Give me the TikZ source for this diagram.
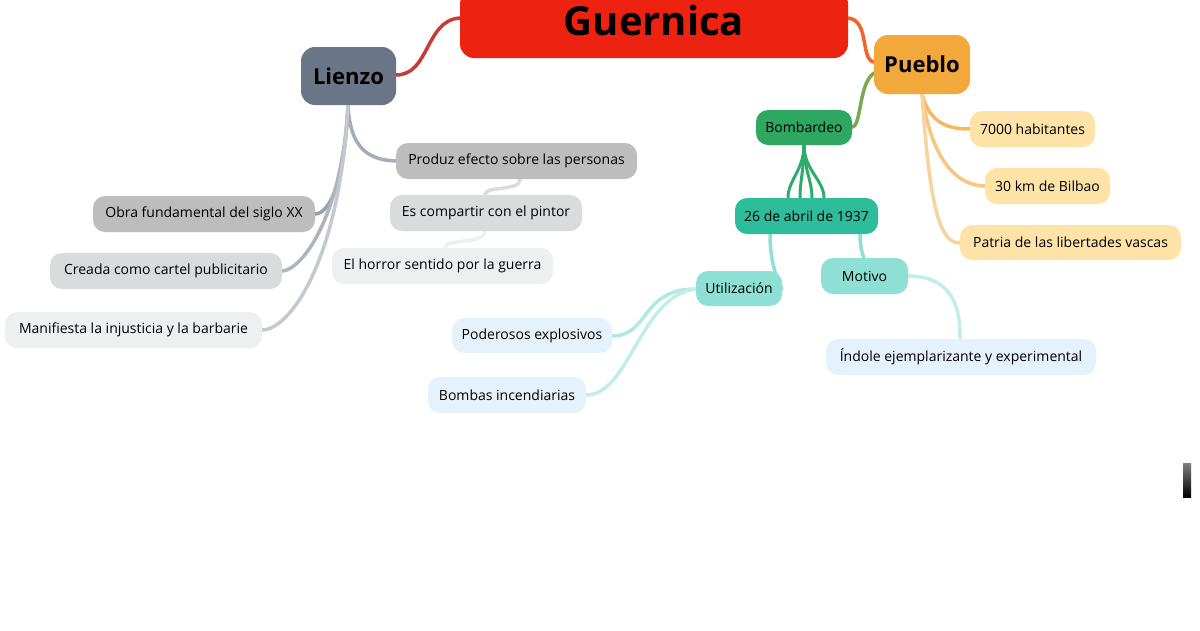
\documentclass[tikz,border=0pt]{standalone}
\usepackage{fontspec}
\setmainfont{Open Sans}
\definecolor{gred}{HTML}{EE2211}
\definecolor{lgray}{HTML}{6B7588}
\definecolor{porange}{HTML}{F2A83A}
\definecolor{bgreen}{HTML}{2EA860}
\definecolor{dteal}{HTML}{2EBD9A}
\definecolor{lteal}{HTML}{8EE0D4}
\definecolor{lblue}{HTML}{E6F2FB}
\definecolor{lyel}{HTML}{FDE3A8}
\definecolor{g1}{HTML}{BDBDBD}
\definecolor{g2}{HTML}{D9DBDD}
\definecolor{g3}{HTML}{EEEFF0}
\tikzset{
 box/.style={rounded corners=12pt,inner sep=0pt,align=center,font=\fontsize{14}{16}\selectfont},
 main/.style={box,font=\bfseries\fontsize{22}{26}\selectfont,rounded corners=14pt},
 con/.style={line width=3.5pt,line cap=round},
}
\begin{document}
\begin{tikzpicture}[x=1pt,y=-1pt]
\useasboundingbox (0,0) rectangle (1200,630);
\fill[white] (0,0) rectangle (1200,630);
\coordinate (gl) at (460,18); \coordinate (gr) at (848,18);
\draw[con,gred!70!lgray] (gl) .. controls (425,20) and (430,75) .. (396,75);
\draw[con,gred!50!porange] (gr) .. controls (870,20) and (860,60) .. (874,62);
\draw[con,lgray!60] (348,105) .. controls (350,150) and (370,160) .. (396,161);
\draw[con,lgray!70] (348,105) .. controls (345,180) and (330,214) .. (315,214);
\draw[con,lgray!55] (348,105) .. controls (342,220) and (300,271) .. (282,271);
\draw[con,lgray!40] (348,105) .. controls (340,260) and (290,330) .. (262,330);
\draw[con,g2] (520,179) .. controls (520,192) and (485,185) .. (485,195);
\draw[con,g3] (485,231) .. controls (485,245) and (445,238) .. (445,248);
\draw[con,bgreen!60!porange] (876,72) .. controls (858,80) and (862,127) .. (852,127);
\draw[con,porange!80] (922,94) .. controls (930,125) and (950,129) .. (970,129);
\draw[con,porange!65] (922,94) .. controls (932,165) and (960,186) .. (985,186);
\draw[con,porange!50] (922,94) .. controls (930,210) and (940,243) .. (960,243);
\foreach \a in {-18,-6,6,18}
  \draw[con,line width=3pt,bgreen!80!dteal] (804,145) .. controls (804,170) and (806+\a,180) .. (806+\a,198);
\draw[con,lteal] (770,234) .. controls (770,270) and (782,289) .. (782,289);
\draw[con,lteal] (860,234) .. controls (860,250) and (864,258) .. (864,258);
\draw[con,lteal!70] (696,289) .. controls (640,289) and (650,336) .. (612,336);
\draw[con,lteal!55] (696,289) .. controls (640,295) and (630,395) .. (586,395);
\draw[con,lteal!55] (908,276) .. controls (960,276) and (960,320) .. (960,339);
\node[main,fill=gred,minimum width=388pt,minimum height=68pt] (g) at (654,24) {};
\node[font=\bfseries\fontsize{40}{44}\selectfont] (gt) at (654,20) {Guernica};
\node[main,fill=lgray,minimum width=95pt,minimum height=58pt] (l) at (348.5,76) {Lienzo};
\node[main,fill=porange,minimum width=96pt,minimum height=59pt] (p) at (922,64.5) {Pueblo};
\node[box,fill=bgreen,minimum width=96pt,minimum height=35pt] (b) at (804,127.5) {Bombardeo};
\node[box,fill=dteal,minimum width=143pt,minimum height=36pt] (d) at (806.5,216) {26 de abril de 1937};
\node[box,fill=lteal,minimum width=86pt,minimum height=35pt] (u) at (739,288.5) {Utilización};
\node[box,fill=lteal,minimum width=87pt,minimum height=36pt] (m) at (864.5,276) {Motivo};
\node[box,fill=lblue,minimum width=160pt,minimum height=35pt] (pe) at (532,335.5) {Poderosos explosivos};
\node[box,fill=lblue,minimum width=158pt,minimum height=36pt] (bi) at (507,395) {Bombas incendiarias};
\node[box,fill=lblue,minimum width=270pt,minimum height=36pt] (io) at (961,357) {Índole ejemplarizante y experimental};
\node[box,fill=lyel,minimum width=125pt,minimum height=36pt] (h) at (1032.5,129) {7000 habitantes};
\node[box,fill=lyel,minimum width=125pt,minimum height=36pt] (k) at (1047.5,186) {30 km de Bilbao};
\node[box,fill=lyel,minimum width=221pt,minimum height=35pt] (pl) at (1070.5,242.5) {Patria de las libertades vascas};
\node[box,fill=g1,minimum width=241pt,minimum height=36pt] (pr) at (516.5,161) {Produz efecto sobre las personas};
\node[box,fill=g2,minimum width=192pt,minimum height=36pt] (ec) at (486,213) {Es compartir con el pintor};
\node[box,fill=g3,minimum width=221pt,minimum height=36pt] (eh) at (442.5,266) {El horror sentido por la guerra};
\node[box,fill=g1,minimum width=222pt,minimum height=36pt] (of) at (204,214) {Obra fundamental del siglo XX};
\node[box,fill=g2,minimum width=232pt,minimum height=36pt] (cc) at (166,271) {Creada como cartel publicitario};
\node[box,fill=g3,minimum width=257pt,minimum height=36pt] (mi) at (133.5,330) {Manifiesta la injusticia y la barbarie};
\shade[top color=gray,bottom color=black] (1183,463) rectangle (1191,497);
\end{tikzpicture}
\end{document}
